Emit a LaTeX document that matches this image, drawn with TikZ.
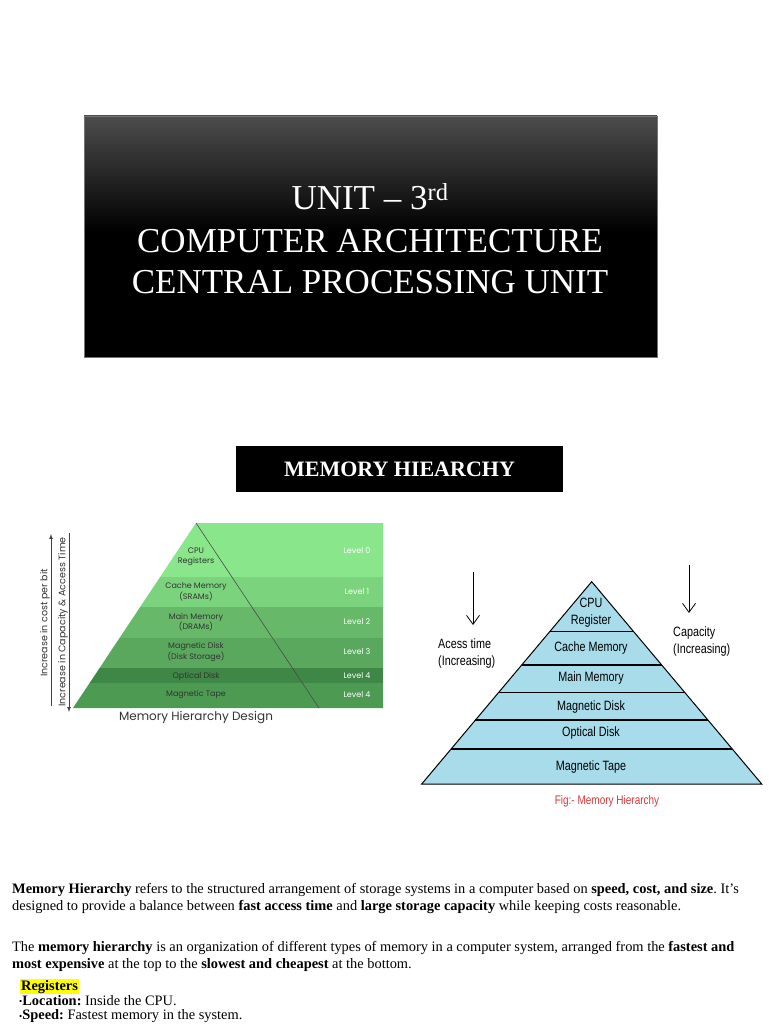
\documentclass[tikz,border=0pt]{standalone}
\usepackage{fontspec}
\setmainfont{Liberation Serif}
\newfontfamily\arialfont[FakeStretch=0.8]{Liberation Sans}
\newfontfamily\geofont{Poppins}
\usepackage{tikz}
\usetikzlibrary{positioning,calc,arrows.meta}
\definecolor{PyrBlue}{HTML}{A8DCEA}
\definecolor{GreenA}{HTML}{8AE68A}
\definecolor{GreenB}{HTML}{7CD37D}
\definecolor{GreenC}{HTML}{67B869}
\definecolor{GreenD}{HTML}{5AA85D}
\definecolor{GreenE}{HTML}{3F8746}
\definecolor{GreenF}{HTML}{4D9B53}
\definecolor{FigRed}{HTML}{E0383A}
\definecolor{HiYellow}{HTML}{FFFF00}
\newcommand{\dotmark}{{\fontsize{9}{9}\selectfont\raisebox{0.5pt}{\textbullet}}}
\frenchspacing

\begin{document}
\begin{tikzpicture}[x=1pt,y=-1pt,>=latex,
                    every node/.style={inner sep=0pt},
                    titletext/.style={text=white, anchor=base, font=\fontsize{35}{41}\selectfont},
                    lvltext/.style={text=white, font=\geofont\fontsize{8}{9}\selectfont},
                    laytext/.style={text=black!80, align=center, font=\geofont\fontsize{8}{9.5}\selectfont},
                    blutext/.style={align=center, font=\arialfont\fontsize{13.5}{17}\selectfont},
                    bodyline/.style={anchor=base west, font=\fontsize{14.4}{17}\selectfont},
                    tick/.style={-{Straight Barb[length=9pt,width=13pt]}, line width=0.8pt}]
\useasboundingbox[fill=white] (0,0) rectangle (768,1024);

% title banner
\coordinate (bnw) at (84,116);
\coordinate (bse) at (657,357);
\fill[black] (bnw) rectangle (bse);
\shade[top color=black!70!white, bottom color=black] (bnw) rectangle (657,232);
\draw[black!55, line width=0.6pt] (bnw) rectangle (bse);
\node[titletext] (unit) at (370,210) {UNIT -- 3\textsuperscript{rd}};
\node[titletext] (archi) at (370,252) {COMPUTER ARCHITECTURE};
\node[titletext] (cpu) at (370,293) {CENTRAL PROCESSING UNIT};

\node[fill=black, minimum width=327pt, minimum height=46pt, text=white,
      font=\bfseries\fontsize{22}{24}\selectfont] (mh) at (399.5,469) {MEMORY HIEARCHY};

% green pyramid
\coordinate (lapex) at (196,523);
\coordinate (lbl) at (73,708);
\coordinate (lbr) at (319,708);
\foreach \ya/\yb/\col in {523/577/GreenA, 577/607/GreenB, 607/638/GreenC,
                          638/668/GreenD, 668/683/GreenE, 683/708/GreenF}
  \fill[\col] ($(lapex)!{(\ya-523)/185}!(lbl)$) -- (383,\ya) -- (383,\yb)
              -- ($(lapex)!{(\yb-523)/185}!(lbl)$) -- cycle;
\draw[black!70, line width=0.6pt] (lapex) -- (lbr);
\node[laytext] (lreg) at (196,557) {CPU\\Registers};
\node[laytext] (lcache) at (196,592) {Cache Memory\\(SRAMs)};
\node[laytext] (lmain) at (196,622) {Main Memory\\(DRAMs)};
\node[laytext] (ldisk) at (196,652) {Magnetic Disk\\(Disk Storage)};
\node[laytext] (lopt) at (196,676) {Optical Disk};
\node[laytext] (ltape) at (196,695) {Magnetic Tape};
\foreach \y/\t in {551/0, 592/1, 622/2, 652/3, 676/4, 695/4}
  \node[lvltext] (lv\y) at (357,\y) {Level \t};

\coordinate (costlo) at (51,706);
\coordinate (costhi) at (51,534);
\draw[->, black!75, line width=0.7pt] (costlo) -- (costhi);
\node[rotate=90, text=black!80, font=\geofont\fontsize{9.5}{11}\selectfont] (costlab) at (45,623) {Increase in cost per bit};
\coordinate (caphi) at (69,533);
\coordinate (caplo) at (69,712);
\draw[->, black!75, line width=0.7pt] (caphi) -- (caplo);
\node[rotate=90, text=black!80, font=\geofont\fontsize{9.5}{11}\selectfont] (caplab) at (63,622) {Increase in Capacity \& Access Time};
\node[text=black!80, font=\geofont\fontsize{12}{14}\selectfont] (ldesign) at (196,718) {Memory Hierarchy Design};

% blue pyramid
\coordinate (rapex) at (591.7,581.7);
\coordinate (rbl) at (421.7,784);
\coordinate (rbr) at (761.7,784);
\filldraw[fill=PyrBlue, draw=black, line width=1pt] (rapex) -- (rbl) -- (rbr) -- cycle;
\foreach \y in {631.7,665,692.3,720,749}
  \draw[line width=1.2pt] ($(rapex)!{(\y-581.7)/202.3}!(rbl)$) -- ($(rapex)!{(\y-581.7)/202.3}!(rbr)$);
\node[blutext] (rreg) at (591,613) {CPU\\Register};
\node[blutext] (rcache) at (591,648) {Cache Memory};
\node[blutext] (rmain) at (591,678) {Main Memory};
\node[blutext] (rdisk) at (591,707) {Magnetic Disk};
\node[blutext] (ropt) at (591,733) {Optical Disk};
\node[blutext] (rtape) at (591,767) {Magnetic Tape};

\coordinate (acctop) at (473,572);
\coordinate (accbot) at (473,625);
\draw[tick] (acctop) -- (accbot);
\node[blutext, align=left, anchor=west] (acclab) at (438,654) {Acess time\\(Increasing)};
\coordinate (captop) at (689,565);
\coordinate (capbot) at (689,613);
\draw[tick] (captop) -- (capbot);
\node[blutext, align=left, anchor=west] (caplab2) at (673,642) {Capacity\\(Increasing)};
\node[text=FigRed, font=\arialfont\fontsize{12.5}{14}\selectfont] (figcap) at (607,801) {Fig:- Memory Hierarchy};

% text below
\node[bodyline] (p1a) at (12,893) {\textbf{Memory Hierarchy} refers to the structured arrangement of storage systems in a computer based on \textbf{speed, cost, and size}. It’s};
\node[bodyline] (p1b) at (12,910) {designed to provide a balance between \textbf{fast access time} and \textbf{large storage capacity} while keeping costs reasonable.};
\node[bodyline] (p2a) at (12,951) {The \textbf{memory hierarchy} is an organization of different types of memory in a computer system, arranged from the \textbf{fastest and}};
\node[bodyline] (p2b) at (12,968) {\textbf{most expensive} at the top to the \textbf{slowest and cheapest} at the bottom.};
\node[bodyline, fill=HiYellow, inner sep=1pt] (reg) at (20,990) {\textbf{Registers}};
\node[bodyline] (loc) at (19,1005) {\dotmark\textbf{Location:} Inside the CPU.};
\node[bodyline] (spd) at (19,1019.5) {\dotmark\textbf{Speed:} Fastest memory in the system.};
\end{tikzpicture}
\end{document}
